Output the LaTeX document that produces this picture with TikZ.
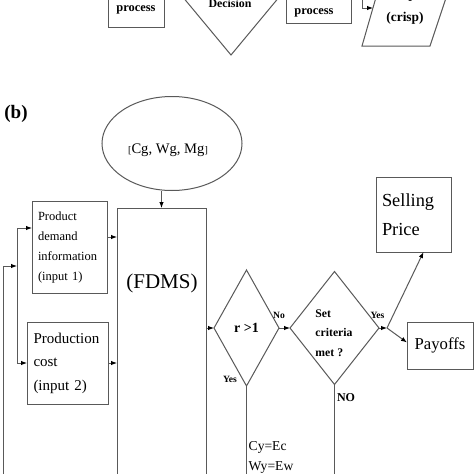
\documentclass[tikz,border=0pt]{standalone}
\usepackage{fontspec}
\setmainfont{Liberation Serif}
\usetikzlibrary{shapes.geometric,calc}
\usetikzlibrary{arrows.meta}
\tikzset{>={Latex[length=6pt,width=4.5pt,color=black]}}
\tikzset{
    ln/.style={draw=black!65, line width=1pt},
    boxn/.style={ln, rectangle, inner sep=0pt, outer sep=0pt},
    dia/.style={ln, diamond, inner sep=0pt, outer sep=0pt},
    lbl/.style={font=\bfseries\fontsize{9.6}{11}\selectfont, inner sep=0pt}
}

\begin{document}
\begin{tikzpicture}[x=1pt,y=-1pt]
    \useasboundingbox (0,0) rectangle (474,474);
    \clip (0,0) rectangle (474,474);
    \fill[white] (0,0) rectangle (474,474);
    \coordinate (bot) at (0,490);

    % Top strip (cut by the page edge)
                \begin{scope}
                    \node[boxn, minimum width=56, minimum height=60] (procL) at (136,-3) {};
                    \node[font=\bfseries\fontsize{12.4}{14}\selectfont] (procLtxt) at (136,10) {process};
                    \node[dia, minimum width=108, minimum height=130] (decis) at (231,-10) {};
                    \node[font=\bfseries\fontsize{11.9}{14}\selectfont] (decistxt) at (230,3) {Decision};
                    \node[boxn, minimum width=65, minimum height=60] (procR) at (318.5,-7) {};
                    \node[font=\bfseries\fontsize{12.4}{14}\selectfont] (procRtxt) at (314,13) {process};
                    \draw[ln] (362,46) -- (381,-20) -- (452,-20) -- (430,46) -- cycle;
                    \node[font=\bfseries\fontsize{13.4}{15}\selectfont] (outtxt) at (407,-5) {Output};
                    \node[font=\bfseries\fontsize{13.4}{15}\selectfont] (crisptxt) at (405,18) {(crisp)};
                    \coordinate (outin) at (373,8);
                    \draw[ln,->] (362,-10) |- (outin);
                \end{scope}

                % Panel (b)
                \begin{scope}
                    \node[font=\bfseries\fontsize{19}{22}\selectfont] (blbl) at (16,114) {(b)};
                    \node[ln, ellipse, minimum width=140, minimum height=94, inner sep=0pt] (ellip) at (172,143.5) {};
                    \node[font=\fontsize{14.6}{16}\selectfont] (elliptxt) at (168,150)
                        {{\fontsize{10}{12}\selectfont[}Cg, Wg, Mg{\fontsize{10}{12}\selectfont]}};
                    \node[boxn, minimum width=89, minimum height=320] (fdms) at (161.5,368) {};
                    \node[font=\fontsize{21}{24}\selectfont] (fdmstxt) at (162,283) {(FDMS)};
                    \node[boxn, minimum width=75, minimum height=92, text width=63, align=left,
                        font=\fontsize{12.5}{20}\selectfont] (pdi) at (69.5,247)
                        {Product\\demand\\information\\(input 1)};
                    \node[boxn, minimum width=81, minimum height=82, text width=68, align=left,
                        font=\fontsize{15}{23.5}\selectfont] (pcost) at (67.5,363)
                        {Production\\cost\\(input 2)};
                    \node[dia, minimum width=65, minimum height=116,
                        font=\bfseries\fontsize{14}{16}\selectfont] (rgt) at (246.5,328) {r >1};
                    \node[dia, minimum width=89, minimum height=113] (setc) at (334.5,328) {};
                    \node[align=left, font=\bfseries\fontsize{11.7}{19.5}\selectfont] (setctxt) at (334,333)
                        {Set\\criteria\\met ?};
                    \node[boxn, minimum width=75, minimum height=75, text width=63, align=left,
                        font=\fontsize{18.4}{29}\selectfont] (sell) at (413.5,214.5) {Selling\\Price};
                    \node[boxn, minimum width=66, minimum height=47,
                        font=\fontsize{16.7}{19}\selectfont] (pay) at (440,345.5) {Payoffs};

                    % connectors
                    \draw[ln,->] (fdms.north |- ellip.south) -- (fdms.north);
                    \draw[ln,->] ([yshift=10pt]pdi.east) -- ([yshift=10pt]pdi.east -| fdms.west);
                    \draw[ln,->] (pcost.east) -- (pcost.east -| fdms.west);
                    \draw[ln,->] (fdms.east |- rgt.west) -- (rgt.west);
                    \draw[ln,->] (rgt.east) -- (setc.west);
                    \coordinate (jn) at (387,328);
                    \draw[ln,->] (setc.east) -- (jn);
                    \draw[ln,->] (jn) -- ([xshift=10pt]sell.south);
                    \draw[ln,->] (jn) -- ([yshift=3pt]pay.west);
                    \draw[ln] (rgt.south) -- (rgt.south |- bot);
                    \draw[ln] (setc.south) -- (setc.south |- bot);

                    % feedback into the inputs
                    \coordinate (fbin) at (3,490);
                    \coordinate (spl) at (17,266);
                    \draw[ln,->] (fbin) |- (spl);
                    \draw[ln,->] (spl) |- ([yshift=19pt]pdi.west);
                    \draw[ln,->] (spl) |- (pcost.west);

                    % labels
                    \node[lbl] (nolbl) at (279,315) {No};
                    \node[lbl] (yeslbl) at (377.5,315) {Yes};
                    \node[lbl] (yesdn) at (230,379) {Yes};
                    \node[font=\bfseries\fontsize{12}{14}\selectfont, inner sep=0pt] (NOlbl) at (346,398) {NO};
                    \node[anchor=west, inner sep=0.5pt, font=\fontsize{13.6}{15}\selectfont] (cy) at (248,447) {Cy=Ec};
                    \node[anchor=west, inner sep=0.5pt, font=\fontsize{13.6}{15}\selectfont] (wy) at (248,468) {Wy=Ew};
                \end{scope}
            \end{tikzpicture}
\end{document}
